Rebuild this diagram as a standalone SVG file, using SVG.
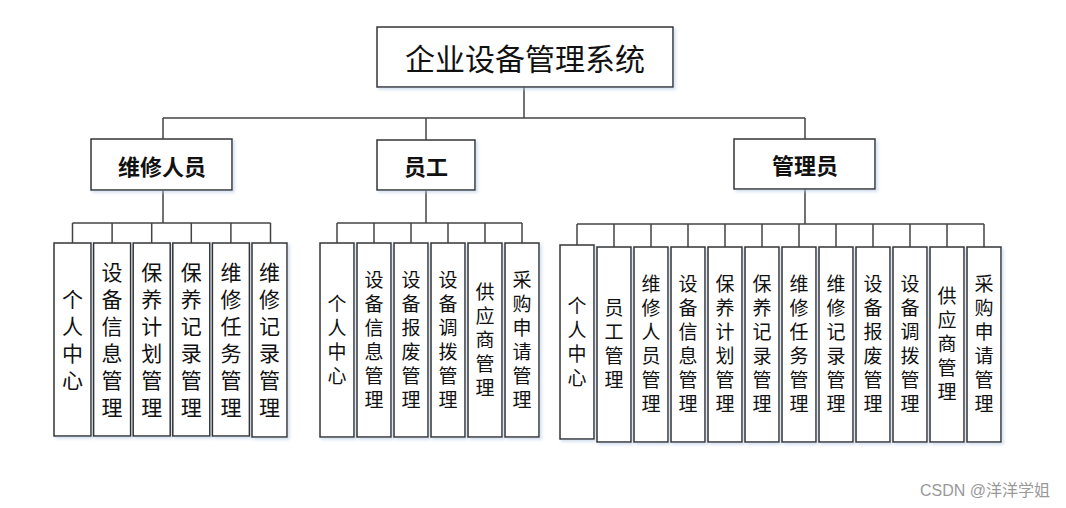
<svg xmlns="http://www.w3.org/2000/svg" width="1066" height="508" viewBox="0 0 1066 508">
<defs>
<filter id="sh" x="-20%" y="-20%" width="140%" height="140%">
<feDropShadow dx="2" dy="2" stdDeviation="1.5" flood-color="#b8cbe6" flood-opacity="0.6"/>
</filter>
</defs>
<style>
.box{fill:#fff;stroke:#333;stroke-width:1.5;filter:url(#sh)}
.ln{fill:none;stroke:#444;stroke-width:1.5}
.t{font-family:"Noto Sans CJK SC","Liberation Sans",sans-serif;fill:#111;text-anchor:middle;dominant-baseline:central}
.title{font-size:30px}
.role{font-size:22px;font-weight:bold}
.v{writing-mode:vertical-rl;text-orientation:upright}
.l1{font-size:21px;letter-spacing:6px}
.l2{font-size:19px;letter-spacing:5px}
.wm{font-family:"Liberation Sans","Noto Sans CJK SC",sans-serif;font-size:16px;fill:#999}
</style>
<rect width="1066" height="508" fill="#fff"/>
<g id="connectors">
<path class="ln" d="M524,87V118M163,118H805M163,118V139M426,118V140M805,118V139"/>
<path class="ln" d="M163,190V223M72.5,223H270.5M72.5,223V243M112.1,223V243M151.7,223V243M191.3,223V243M230.9,223V243M270.5,223V243"/>
<path class="ln" d="M426,190V223M337,223H522M337,223V243M374,223V243M411,223V243M448,223V243M485,223V243M522,223V243"/>
<path class="ln" d="M805,189V224M577,224H984M577,224V245M614,224V247M651,224V247M688,224V247M725,224V247M762,224V247M799,224V247M836,224V247M873,224V247M910,224V247M947,224V247M984,224V247"/>
</g>
<g id="root">
<rect class="box" x="377" y="27" width="296" height="60"/>
<text class="t title" x="525" y="57">企业设备管理系统</text>
</g>
<g id="role-weixiu">
<rect class="box" x="91" y="139" width="141" height="51"/>
<text class="t role" x="162" y="165">维修人员</text>
</g>
<g id="role-yuangong">
<rect class="box" x="377" y="140" width="98" height="50"/>
<text class="t role" x="426" y="165">员工</text>
</g>
<g id="role-guanli">
<rect class="box" x="734" y="139" width="141" height="50"/>
<text class="t role" x="805" y="164">管理员</text>
</g>
<g id="a1"><rect class="box" x="54" y="243" width="37" height="193"/><text class="t v l1" x="72.5" y="342.5">个人中心</text></g>
<g id="a2"><rect class="box" x="93.6" y="243" width="37" height="193"/><text class="t v l1" x="112.1" y="342.5">设备信息管理</text></g>
<g id="a3"><rect class="box" x="133.2" y="243" width="37" height="193"/><text class="t v l1" x="151.7" y="342.5">保养计划管理</text></g>
<g id="a4"><rect class="box" x="172.8" y="243" width="37" height="193"/><text class="t v l1" x="191.3" y="342.5">保养记录管理</text></g>
<g id="a5"><rect class="box" x="212.4" y="243" width="37" height="193"/><text class="t v l1" x="230.9" y="342.5">维修任务管理</text></g>
<g id="a6"><rect class="box" x="252" y="243" width="35" height="194"/><text class="t v l1" x="269.5" y="342.5">维修记录管理</text></g>
<g id="b1"><rect class="box" x="320" y="243" width="34" height="194"/><text class="t v l2" x="337" y="342">个人中心</text></g>
<g id="b2"><rect class="box" x="357" y="243" width="34" height="194"/><text class="t v l2" x="374" y="342.5">设备信息管理</text></g>
<g id="b3"><rect class="box" x="394" y="243" width="34" height="194"/><text class="t v l2" x="411" y="342.5">设备报废管理</text></g>
<g id="b4"><rect class="box" x="431" y="243" width="34" height="194"/><text class="t v l2" x="448" y="342.5">设备调拨管理</text></g>
<g id="b5"><rect class="box" x="468" y="243" width="34" height="194"/><text class="t v l2" x="485" y="342.5">供应商管理</text></g>
<g id="b6"><rect class="box" x="505" y="243" width="34" height="194"/><text class="t v l2" x="522" y="342.5">采购申请管理</text></g>
<g id="c1"><rect class="box" x="560" y="245" width="34" height="194"/><text class="t v l2" x="577" y="344.5">个人中心</text></g>
<g id="c2"><rect class="box" x="597" y="247" width="34" height="195"/><text class="t v l2" x="614" y="346.5">员工管理</text></g>
<g id="c3"><rect class="box" x="634" y="247" width="34" height="195"/><text class="t v l2" x="651" y="346.5">维修人员管理</text></g>
<g id="c4"><rect class="box" x="671" y="247" width="34" height="195"/><text class="t v l2" x="688" y="346.5">设备信息管理</text></g>
<g id="c5"><rect class="box" x="708" y="247" width="34" height="195"/><text class="t v l2" x="725" y="346.5">保养计划管理</text></g>
<g id="c6"><rect class="box" x="745" y="247" width="34" height="195"/><text class="t v l2" x="762" y="346.5">保养记录管理</text></g>
<g id="c7"><rect class="box" x="782" y="247" width="34" height="195"/><text class="t v l2" x="799" y="346.5">维修任务管理</text></g>
<g id="c8"><rect class="box" x="819" y="247" width="34" height="195"/><text class="t v l2" x="836" y="346.5">维修记录管理</text></g>
<g id="c9"><rect class="box" x="856" y="247" width="34" height="195"/><text class="t v l2" x="873" y="346.5">设备报废管理</text></g>
<g id="c10"><rect class="box" x="893" y="247" width="34" height="195"/><text class="t v l2" x="910" y="346.5">设备调拨管理</text></g>
<g id="c11"><rect class="box" x="930" y="247" width="34" height="195"/><text class="t v l2" x="947" y="346.5">供应商管理</text></g>
<g id="c12"><rect class="box" x="967" y="247" width="34" height="195"/><text class="t v l2" x="984" y="346.5">采购申请管理</text></g>
<text class="wm" x="1050" y="496" text-anchor="end">CSDN @洋洋学姐</text>
</svg>
